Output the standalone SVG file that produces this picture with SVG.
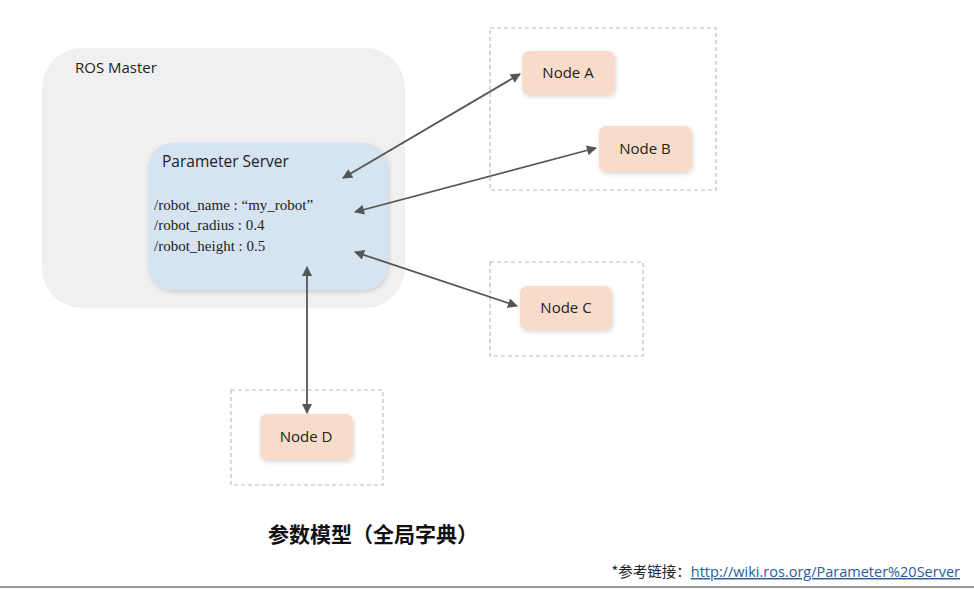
<svg xmlns="http://www.w3.org/2000/svg" width="974" height="589" viewBox="0 0 974 589">
<defs>
<marker id="ah" viewBox="0 0 10 10" refX="9" refY="5" markerWidth="11" markerHeight="10" orient="auto-start-reverse" markerUnits="userSpaceOnUse"><path d="M0,0 L10,5 L0,10 z" fill="#555"/></marker>
<filter id="sh" x="-20%" y="-20%" width="140%" height="140%"><feDropShadow dx="1" dy="2" stdDeviation="2" flood-color="#000" flood-opacity="0.15"/></filter>
</defs>
<style>
.node rect{fill:#f8dcca;filter:url(#sh)}
.node text{font-family:"Open Sans","Liberation Sans",sans-serif;font-size:15px;fill:#222;text-anchor:middle}
.dash{fill:none;stroke:#bbb;stroke-width:1.2;stroke-dasharray:4 3}
.conn line{stroke:#555;stroke-width:1.8;marker-start:url(#ah);marker-end:url(#ah)}
.param{font-family:"Liberation Serif",serif;font-size:15px;fill:#222}
</style>
<rect width="974" height="589" fill="#fff"/>
<g id="ros-master">
<rect x="42" y="48" width="363" height="260" rx="40" fill="#f0f0f0"/>
<text x="75" y="73" font-family="Open Sans,Liberation Sans,sans-serif" font-size="15" fill="#222">ROS Master</text>
</g>
<g id="parameter-server">
<rect x="148" y="143" width="240" height="147" rx="25" fill="#d6e3f0" filter="url(#sh)"/>
<text x="162" y="167" font-family="Open Sans,Liberation Sans,sans-serif" font-size="15.5" fill="#222">Parameter Server</text>
<text class="param" x="154" y="210">/robot_name :  “my_robot”</text>
<text class="param" x="154" y="230">/robot_radius : 0.4</text>
<text class="param" x="154" y="251">/robot_height : 0.5</text>
</g>
<rect class="dash" x="490" y="28" width="226" height="162"/>
<rect class="dash" x="490" y="262" width="153" height="94"/>
<rect class="dash" x="231" y="390" width="152" height="95"/>
<g id="node-a" class="node"><rect x="522" y="51" width="93" height="44" rx="7"/><text x="568" y="78">Node A</text></g>
<g id="node-b" class="node"><rect x="599" y="126" width="93" height="46" rx="7"/><text x="645" y="154">Node B</text></g>
<g id="node-c" class="node"><rect x="520" y="286" width="92" height="44" rx="7"/><text x="566" y="313">Node C</text></g>
<g id="node-d" class="node"><rect x="260" y="414" width="93" height="46" rx="7"/><text x="306" y="442">Node D</text></g>
<g id="connectors" class="conn">
<line x1="343" y1="178" x2="520" y2="74"/>
<line x1="355" y1="212" x2="596" y2="148"/>
<line x1="355" y1="252" x2="517" y2="306"/>
<line x1="307" y1="267" x2="307" y2="413"/>
</g>
<text x="373" y="542" text-anchor="middle" font-family="Noto Sans CJK SC,sans-serif" font-size="21" font-weight="bold" fill="#111">参数模型（全局字典）</text>
<text x="960" y="577" text-anchor="end" font-family="Noto Sans CJK SC,sans-serif" font-size="14.5" fill="#222">*参考链接：<tspan fill="#2a5d9a" text-decoration="underline" font-family="Open Sans,Liberation Sans,sans-serif">http://wiki.ros.org/Parameter%20Server</tspan></text>
<line x1="0" y1="587" x2="974" y2="587" stroke="#999" stroke-width="2"/>
</svg>
